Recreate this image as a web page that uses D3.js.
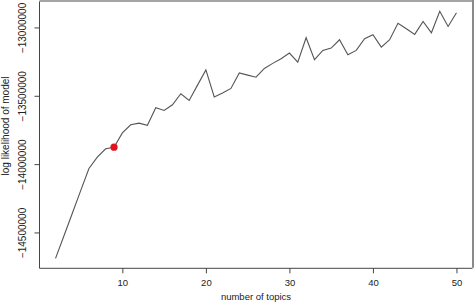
<!DOCTYPE html>
<html><head><meta charset="utf-8">
<script src="https://cdn.jsdelivr.net/npm/d3@7"></script>
<style>body{margin:0;background:#fff}svg{display:block}text{font-family:"Liberation Sans",Arial,sans-serif;fill:#222}</style>
</head><body><svg id="c" width="474" height="305"></svg>
<script>
const topics = d3.range(2, 51);
const logLik = [-14690000,-14526000,-14361000,-14196000,-14032000,-13949000,-13888000,-13876000,-13772000,-13712000,
-13700000,-13716000,-13587000,-13607000,-13566000,-13485000,-13534000,-13422000,-13311000,-13509000,
-13479000,-13446000,-13333000,-13349000,-13364000,-13300000,-13263000,-13229000,-13187000,-13254000,
-13075000,-13236000,-13168000,-13151000,-13090000,-13199000,-13168000,-13083000,-13053000,-13144000,
-13090000,-12969000,-13010000,-13051000,-12956000,-13039000,-12881000,-12993000,-12892000];
const highlight = 9;
const xTicks = [10,20,30,40,50];
const yTicks = [-14500000,-14000000,-13500000,-13000000];
const xTitle = "number of topics", yTitle = "log likelihood of model";

const svg = d3.select("#c");
const L=39.5, R=472.5, T=1.3, B=268.3;
const xr = d3.extent(topics), yr = d3.extent(logLik);
const xp = (xr[1]-xr[0])*0.04, yp = (yr[1]-yr[0])*0.04;
const x = d3.scaleLinear().domain([xr[0]-xp, xr[1]+xp]).range([L, R]);
const y = d3.scaleLinear().domain([yr[0]-yp, yr[1]+yp]).range([B, T]);

// box
svg.append("line").attr("x1",L).attr("x2",L).attr("y1",T).attr("y2",B).attr("stroke","#444");
svg.append("line").attr("x1",L).attr("x2",R).attr("y1",B).attr("y2",B).attr("stroke","#444");
svg.append("rect").attr("x",L).attr("y",0).attr("width",474-L).attr("height",2).attr("fill","#a5a5a5");
svg.append("rect").attr("x",R-0.5).attr("y",0).attr("width",2).attr("height",B-0.5).attr("fill","#8a8a8a");

const xa = svg.append("g").attr("transform",`translate(0,${B})`)
  .call(d3.axisBottom(x).tickValues(xTicks).tickSize(5).tickSizeOuter(0).tickPadding(6));
xa.select(".domain").remove();
xa.selectAll("line").attr("stroke","#444");
xa.selectAll("text").attr("font-size",9.5).attr("fill","#222").attr("font-family","Liberation Sans, Arial, sans-serif");

const ya = svg.append("g").attr("transform",`translate(${L},0)`)
  .call(d3.axisLeft(y).tickValues(yTicks).tickSize(5).tickSizeOuter(0).tickFormat(d3.format("d")));
ya.select(".domain").remove();
ya.selectAll("line").attr("stroke","#444");
ya.selectAll("text").attr("font-size",10).attr("fill","#222").attr("font-family","Liberation Sans, Arial, sans-serif")
  .attr("text-anchor","middle").attr("x",0).attr("dy","0.35em");
ya.selectAll(".tick").each(function(d){ d3.select(this).select("text").attr("transform",`translate(${22.5-L},0) rotate(-90)`); });

const line = d3.line().x((d,i)=>x(topics[i])).y(d=>y(d));
svg.append("path").datum(logLik).attr("d",line).attr("fill","none").attr("stroke","#555").attr("stroke-width",1.1);

svg.append("circle").attr("cx",x(highlight)).attr("cy",y(logLik[topics.indexOf(highlight)])).attr("r",3.6).attr("fill","#e0141e");

svg.append("text").attr("x",(L+R)/2).attr("y",300).attr("text-anchor","middle").attr("font-size",9.5).text(xTitle);
svg.append("text").attr("transform",`translate(9,126) rotate(-90)`).attr("text-anchor","middle").attr("font-size",10).text(yTitle);
</script></body></html>
